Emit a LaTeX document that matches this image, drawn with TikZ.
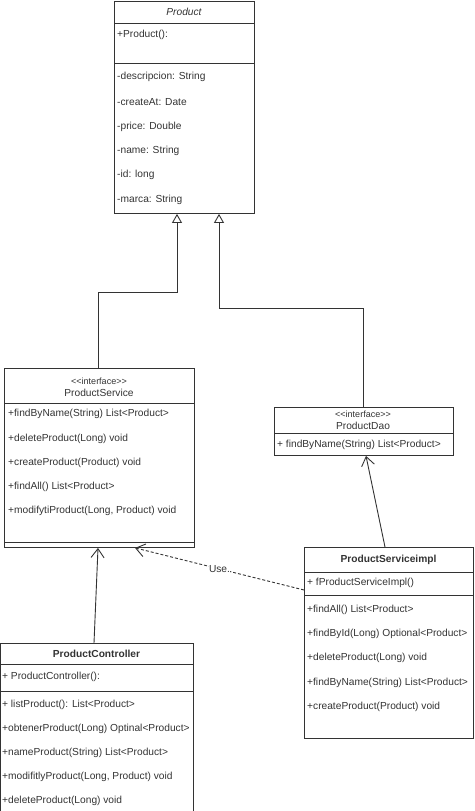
\documentclass[tikz,border=0pt]{standalone}
\usepackage{fontspec}
\setmainfont{Liberation Sans}
\usetikzlibrary{arrows.meta}
\definecolor{ink}{HTML}{333333}
\tikzset{
  classbox/.style={draw=ink, line width=0.9pt, rectangle, inner sep=0pt, anchor=north west},
  sep/.style={draw=ink, line width=0.9pt},
  txt/.style={text=ink, inner sep=0pt, anchor=west, font=\fontsize{10.2}{12}\selectfont},
  ttl/.style={text=ink, inner sep=0pt, anchor=center, font=\fontsize{10.2}{12}\selectfont},
  stereo/.style={text=ink, inner sep=0pt, anchor=center, font=\fontsize{9}{10}\selectfont},
  gen/.style={draw=ink, line width=0.9pt, -{Triangle[open, length=9pt, width=10pt]}},
  assoc/.style={draw=ink, line width=0.9pt, -{Straight Barb[length=9pt, width=13pt]}},
  dep/.style={draw=ink, line width=0.9pt, dash pattern=on 3pt off 2pt, -{Straight Barb[length=9pt, width=13pt]}},
}
\begin{document}
\begin{tikzpicture}[x=1pt,y=-1pt]
\useasboundingbox (0,0) rectangle (474,811);
% Product
\node[classbox, minimum width=140pt, minimum height=212.5pt] (prod) at (114,0.5) {};
\draw[sep] (114,23) -- (254,23);
\draw[sep] (114,63) -- (254,63);
\node[ttl, font=\fontsize{10.2}{12}\selectfont\itshape] (prodt) at (184,12) {Product};
\node[txt] (prodc) at (117,35) {+Product():};
\node[txt] (pa1) at (117,77) {-descripcion: String};
\node[txt] (pa2) at (117,102) {-createAt: Date};
\node[txt] (pa3) at (117,127) {-price: Double};
\node[txt] (pa4) at (117,151) {-name: String};
\node[txt] (pa5) at (117,175) {-id: long};
\node[txt] (pa6) at (117,200) {-marca: String};
% ProductService
\node[classbox, minimum width=190pt, minimum height=179pt] (svc) at (4,368) {};
\draw[sep] (4,403) -- (194,403);
\draw[sep] (4,542) -- (194,542);
\node[stereo] (svcs) at (99,381) {{<}{<}interface{>}{>}};
\node[ttl] (svct) at (99,393) {ProductService};
\node[txt] (s1) at (8,414) {+findByName(String) List{<}Product{>}};
\node[txt] (s2) at (8,439) {+deleteProduct(Long) void};
\node[txt] (s3) at (8,463) {+createProduct(Product) void};
\node[txt] (s4) at (8,487) {+findAll() List{<}Product{>}};
\node[txt] (s5) at (8,511) {+modifytiProduct(Long, Product) void};
% ProductDao
\node[classbox, minimum width=179pt, minimum height=48pt] (dao) at (274,407) {};
\draw[sep] (274,433) -- (453,433);
\node[stereo] (daos) at (363,414) {{<}{<}interface{>}{>}};
\node[ttl] (daot) at (363,426) {ProductDao};
\node[txt] (d1) at (277,445) {+ findByName(String) List{<}Product{>}};
% ProductServiceimpl
\node[classbox, minimum width=169pt, minimum height=191pt] (impl) at (304,547) {};
\draw[sep] (304,572) -- (473,572);
\draw[sep] (304,595) -- (473,595);
\node[ttl, font=\fontsize{10.2}{12}\selectfont\bfseries] (implt) at (388.5,560) {ProductServiceimpl};
\node[txt] (ic) at (307,583) {+ fProductServiceImpl()};
\node[txt] (i1) at (307,610) {+findAll() List{<}Product{>}};
\node[txt] (i2) at (307,634) {+findById(Long) Optional{<}Product{>}};
\node[txt] (i3) at (307,658) {+deleteProduct(Long) void};
\node[txt] (i4) at (307,683) {+findByName(String) List{<}Product{>}};
\node[txt] (i5) at (307,707) {+createProduct(Product) void};
% ProductController
\node[classbox, minimum width=193pt, minimum height=180pt] (ctrl) at (0,643) {};
\draw[sep] (0,664) -- (193,664);
\draw[sep] (0,691) -- (193,691);
\node[ttl, font=\fontsize{10.2}{12}\selectfont\bfseries] (ctrlt) at (96.5,654) {ProductController};
\node[txt] (cc) at (2,677) {+ ProductController():};
\node[txt] (c1) at (2,705) {+ listProduct(): List{<}Product{>}};
\node[txt] (c2) at (2,729) {+obtenerProduct(Long) Optinal{<}Product{>}};
\node[txt] (c3) at (2,753) {+nameProduct(String) List{<}Product{>}};
\node[txt] (c4) at (2,777) {+modifitlyProduct(Long, Product) void};
\node[txt] (c5) at (2,801) {+deleteProduct(Long) void};
% connectors
\draw[gen] ([xshift=94pt]svc.north west) -- ++(0,-76) -| ([xshift=63pt]prod.south west);
\draw[gen] ([xshift=89pt]dao.north west) -- ++(0,-99) -| ([xshift=105pt]prod.south west);
\draw[assoc] ([xshift=94pt]ctrl.north west) -- ([xshift=94pt]svc.south west);
\draw[assoc] ([xshift=81pt]impl.north west) -- ([xshift=92pt]dao.south west);
\draw[dep] ([yshift=-43pt]impl.north west) -- node[pos=0.5, fill=white, inner sep=0.5pt, text=ink, font=\fontsize{10.2}{12}\selectfont] (use) {Use.} ([xshift=131pt]svc.south west);
\end{tikzpicture}
\end{document}
